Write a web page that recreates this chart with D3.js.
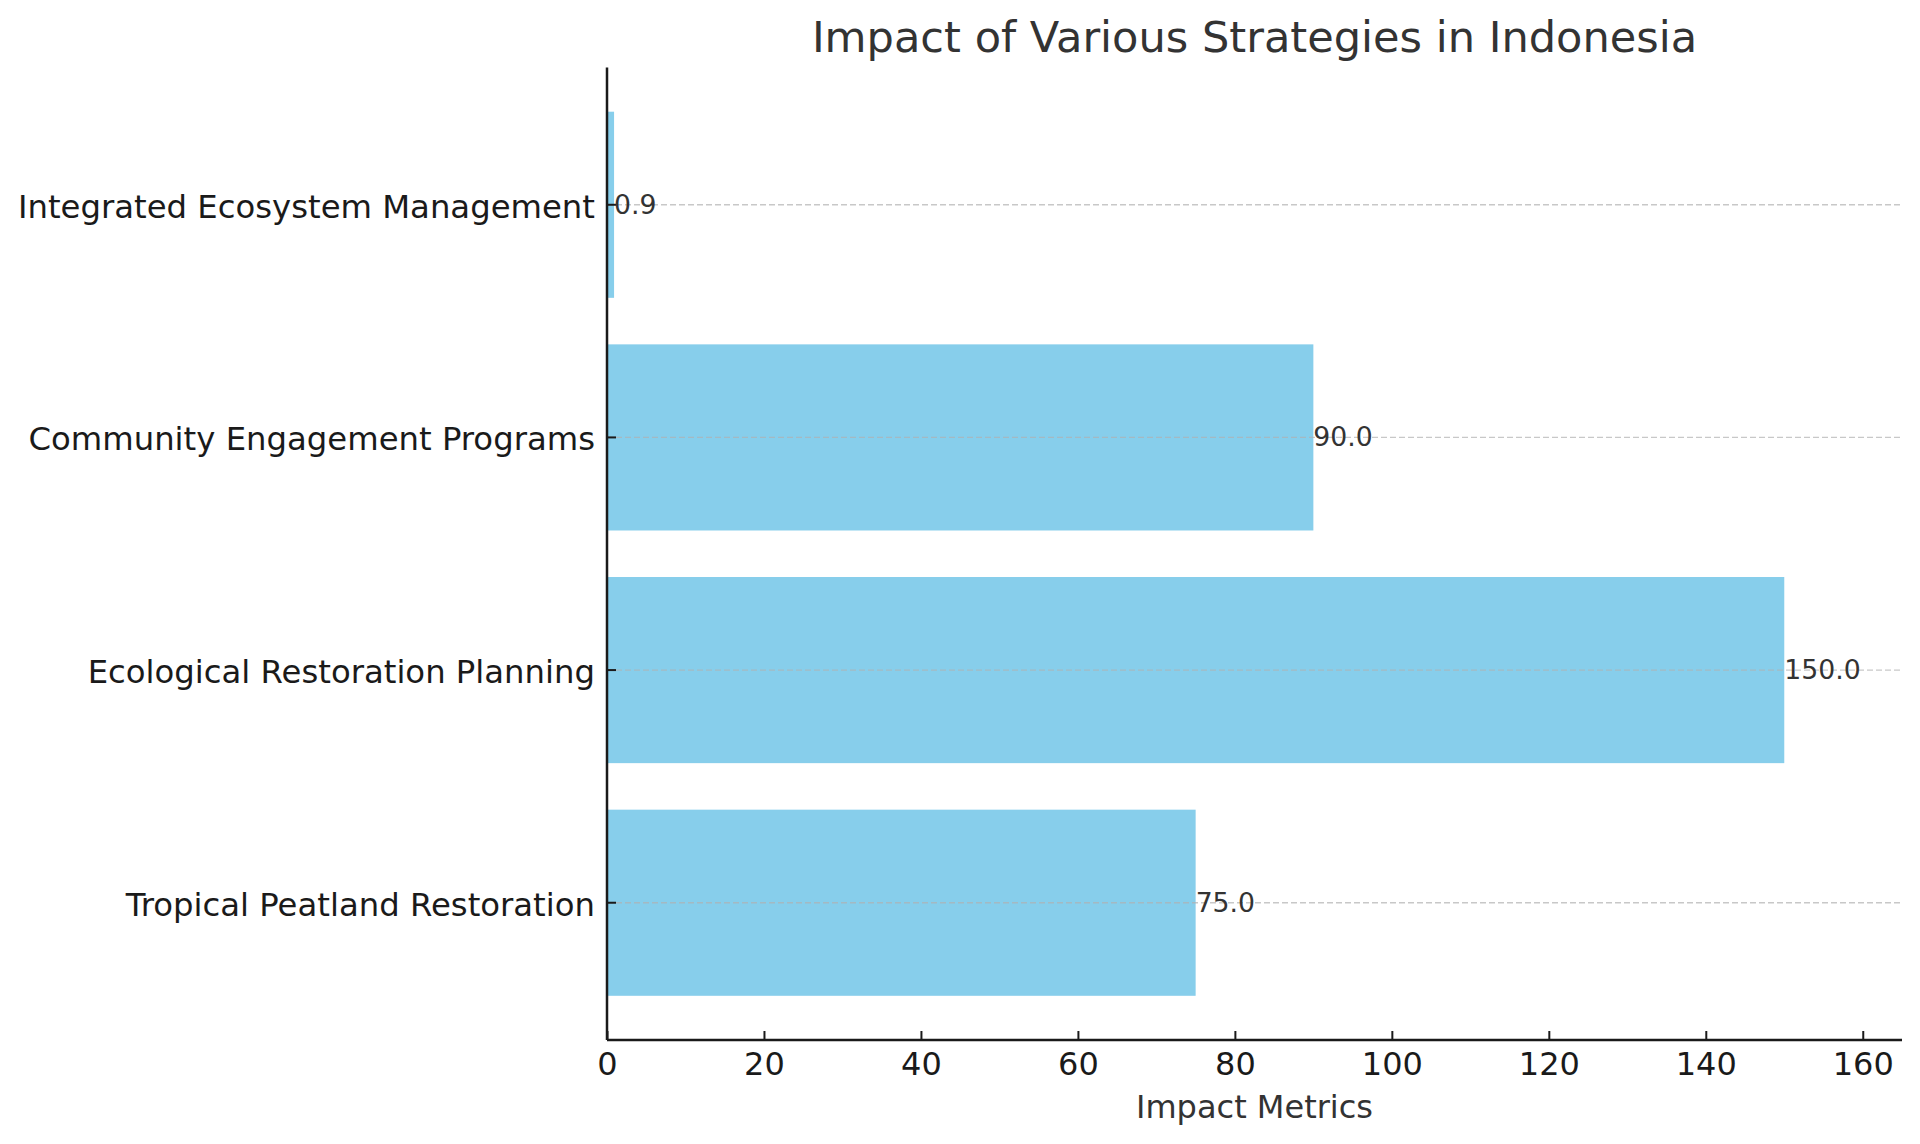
<!DOCTYPE html>
<html>
<head>
<meta charset="utf-8">
<script src="https://cdn.jsdelivr.net/npm/d3@7"></script>
<style>
  html, body { margin: 0; padding: 0; background: #ffffff; }
  svg { display: block; font-family: "DejaVu Sans", sans-serif; }
</style>
</head>
<body>
<svg id="chart" width="1920" height="1144"></svg>
<script>
// ---- data ----
const categories = [
  "Tropical Peatland Restoration",
  "Ecological Restoration Planning",
  "Community Engagement Programs",
  "Integrated Ecosystem Management"
];
const values = [75.0, 150.0, 90.0, 0.9];
const xTicks = [0, 20, 40, 60, 80, 100, 120, 140, 160];
const titleText = "Impact of Various Strategies in Indonesia";
const xLabelText = "Impact Metrics";

// ---- layout ----
const plot = { left: 607, right: 1902, top: 67.5, bottom: 1040 };
const svg = d3.select("#chart");

const x = d3.scaleLinear().domain([0, 165]).range([plot.left, plot.right]);
// categories drawn bottom-to-top like matplotlib barh
const y = d3.scaleBand()
  .domain(categories)
  .range([plot.bottom, plot.top])
  .paddingInner(0.2)
  .paddingOuter(0.19);

// bars
svg.append("g").selectAll("rect")
  .data(categories)
  .join("rect")
  .attr("x", x(0))
  .attr("y", d => y(d))
  .attr("width", (d, i) => x(values[i]) - x(0))
  .attr("height", y.bandwidth())
  .attr("fill", "#87ceeb");

// horizontal dashed grid at category centres
svg.append("g").selectAll("line")
  .data(categories)
  .join("line")
  .attr("x1", plot.left)
  .attr("x2", plot.right)
  .attr("y1", d => y(d) + y.bandwidth() / 2)
  .attr("y2", d => y(d) + y.bandwidth() / 2)
  .attr("stroke", "#b0b0b0")
  .attr("stroke-opacity", 0.7)
  .attr("stroke-width", 1.3)
  .attr("stroke-dasharray", "6,3");

// x axis
const xAxis = d3.axisBottom(x).tickValues(xTicks).tickSize(-9).tickPadding(12).tickFormat(d3.format("d"));
const gx = svg.append("g").attr("transform", `translate(0,${plot.bottom})`).call(xAxis);
gx.select(".domain").attr("stroke", "#1a1a1a").attr("stroke-width", 2.5)
  .attr("d", `M${plot.left},0H${plot.right}`);
gx.selectAll(".tick line").attr("stroke", "#1a1a1a").attr("stroke-width", 2);
gx.selectAll(".tick text").attr("font-size", 32).attr("font-family", "DejaVu Sans").attr("fill", "#1a1a1a");

// y axis
const yAxis = d3.axisLeft(y).tickSize(-9).tickPadding(12);
const gy = svg.append("g").attr("transform", `translate(${plot.left},0)`).call(yAxis);
gy.select(".domain").attr("stroke", "#1a1a1a").attr("stroke-width", 2.5)
  .attr("d", `M0,${plot.top}V${plot.bottom}`);
gy.selectAll(".tick line").attr("stroke", "#1a1a1a").attr("stroke-width", 2);
gy.selectAll(".tick text").attr("font-size", 32.3).attr("dy", "0.4em")
  .attr("font-family", "DejaVu Sans").attr("fill", "#1a1a1a");

// value labels
svg.append("g").selectAll("text")
  .data(categories)
  .join("text")
  .attr("x", (d, i) => x(values[i]))
  .attr("y", d => y(d) + y.bandwidth() / 2 + 9)
  .attr("font-size", 26.7)
  .attr("fill", "#333333")
  .text((d, i) => values[i].toFixed(1));

// title
svg.append("text")
  .attr("x", (plot.left + plot.right) / 2)
  .attr("y", 52)
  .attr("text-anchor", "middle")
  .attr("font-size", 43.1)
  .attr("fill", "#333333")
  .text(titleText);

// x label
svg.append("text")
  .attr("x", (plot.left + plot.right) / 2)
  .attr("y", 1118)
  .attr("text-anchor", "middle")
  .attr("font-size", 32)
  .attr("fill", "#333333")
  .text(xLabelText);
</script>
</body>
</html>
